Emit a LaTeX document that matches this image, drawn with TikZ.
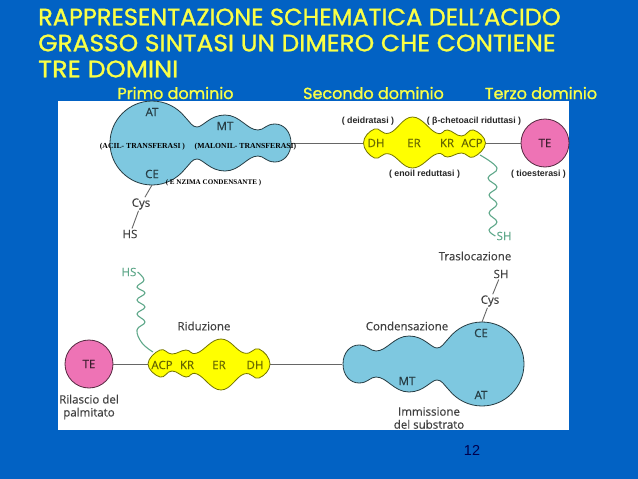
\documentclass[tikz,border=0pt]{standalone}
\usepackage{fontspec}
\setmainfont{Open Sans}[FakeBold=0.4,AutoFakeBold=0.4]
\newfontfamily\titlefont{Poppins}[FakeBold=1.1]
\newfontfamily\labfont{Open Sans}[FakeBold=0.3]
\newfontfamily\serifbold{Liberation Serif}
\newfontfamily\arialfont{Liberation Sans}
\usetikzlibrary{positioning}
\definecolor{slideblue}{RGB}{2,98,196}
\definecolor{headyellow}{RGB}{250,255,70}
\definecolor{kscyan}{RGB}{126,200,224}
\definecolor{ksyellow}{RGB}{255,255,0}
\definecolor{kspink}{RGB}{238,115,181}
\definecolor{kschain}{RGB}{95,168,138}
\tikzset{
  full/.style={draw=black!70!kscyan,fill=kscyan,line width=0.8pt},
  halfyellow/.style={draw=black!55!ksyellow,fill=ksyellow,line width=0.8pt},
  tedomain/.style={circle,draw=black!65!kspink,fill=kspink,line width=0.8pt,minimum size=48pt,inner sep=0pt,
    font=\labfont\fontsize{11.5}{13}\selectfont,text=black!75!kspink},
  bond/.style={draw=black!60,line width=0.9pt},
  chain/.style={draw=kschain,line width=1.1pt},
  title/.style={font=\titlefont\fontsize{23.7}{26}\selectfont,text=headyellow,anchor=west,inner sep=0pt,transform shape},
  head/.style={font=\titlefont\fontsize{16}{18}\selectfont,text=headyellow},
  lab/.style={font=\labfont\fontsize{11.5}{13}\selectfont,text=black!75,inner sep=1pt,align=center},
  dom/.style={font=\labfont\fontsize{11.5}{13}\selectfont,inner sep=1pt},
  enzs/.style={font=\serifbold\bfseries\fontsize{7.7}{9}\selectfont,inner sep=0pt},
  enza/.style={font=\arialfont\bfseries\fontsize{8.8}{10}\selectfont,text=black!85,inner sep=0pt},
  ksblue/.pic={
    \draw[full] (33,-26) .. controls (38,-21) and (40,-16) .. (45,-16)
      .. controls (51,-16) and (58,-28) .. (73,-28) .. controls (88,-28) and (95,-13) .. (106,-13)
      .. controls (112,-13) and (114,-19) .. (123,-19) .. controls (132,-19) and (139,-11) .. (139,0)
      .. controls (139,11) and (132,19) .. (123,19) .. controls (114,19) and (112,13) .. (106,13)
      .. controls (95,13) and (88,28) .. (73,28) .. controls (58,28) and (51,16) .. (45,16)
      .. controls (40,16) and (38,21) .. (33,26) .. controls (25,36) and (13,42) .. (0,42)
      .. controls (-23,42) and (-42,23) .. (-42,0) .. controls (-42,-23) and (-23,-42) .. (0,-42)
      .. controls (13,-42) and (25,-36) .. (33,-26) -- cycle;
  },
  ksyel/.pic={
    \draw[halfyellow] plot[smooth cycle,tension=.75] coordinates {(-61,0) (-50,-14) (-35,-10) (-12,-26)
      (12,-10) (23,-13) (37,-7) (49,-13) (61,0) (49,14) (37,10) (23,14) (12,11) (-12,25)
      (-35,11) (-50,15)};
  }
}
\begin{document}
\begin{tikzpicture}[x=1pt,y=-1pt]
\useasboundingbox (0,0) rectangle (638,479);
\fill[slideblue] (0,0) rectangle (638,479);
% titles
\node[title,xscale=1.015] (line1) at (38,17) {RAPPRESENTAZIONE SCHEMATICA DELL’ACIDO};
\node[title,xscale=1.05] (line2) at (38,43) {GRASSO SINTASI UN DIMERO CHE CONTIENE};
\node[title,xscale=1.08] (line3) at (38,69) {TRE DOMINI};
\node[head] (primo) at (175.5,93) {Primo dominio};
\node[head] (secondo) at (373.5,93) {Secondo dominio};
\node[head] (terzo) at (541,93) {Terzo dominio};
\fill[white] (58,101) rectangle (569,430);
% upper chain
\node[tedomain] (te1) at (545,143) {TE};
\coordinate (blue1e) at (291,143);
\coordinate (yel1w) at (363,143);
\coordinate (yel1e) at (486,143);
\coordinate (ce1) at (152,185);
\coordinate (acp1) at (480,155);
\draw[bond] (blue1e) -- (yel1w);
\draw[bond] (yel1e) -- (te1);
\pic at (152,143) {ksblue};
\pic at (424.5,143) {ksyel};
\node[dom,text=black!70!kscyan] (at1) at (152,112) {AT};
\node[dom,text=black!70!kscyan] (mt1) at (225,126) {MT};
\node[dom,text=black!70!kscyan] (ce1l) at (152,174) {CE};
\node[dom,text=black!60!ksyellow] (dh1) at (376,143) {DH};
\node[dom,text=black!60!ksyellow] (er1) at (414,143) {ER};
\node[dom,text=black!60!ksyellow] (kr1) at (447,143) {KR};
\node[dom,text=black!60!ksyellow] (acp1l) at (472,143) {ACP};
\node[lab] (cys1) at (141,204) {Cys};
\node[lab] (hs1) at (130,234) {HS};
\draw[bond] (ce1) -- (cys1);
\draw[bond] (cys1) -- (hs1);
\node[lab,text=kschain] (sh1) at (504,236) {SH};
\draw[chain] plot[smooth,tension=.7] coordinates {(acp1) (497,168) (488,178) (497,187) (489,195) (497,204)
  (489,213) (497,222) (489,230) (sh1.west)};
\node[lab] (trasl) at (475,256) {Traslocazione};
% lower chain
\node[tedomain] (te2) at (89,364) {TE};
\coordinate (yel2w) at (148,364);
\coordinate (yel2e) at (270,364);
\coordinate (blue2w) at (342,364);
\coordinate (acp2) at (153,352);
\coordinate (ce2) at (482,322);
\draw[bond] (te2) -- (yel2w);
\draw[bond] (yel2e) -- (blue2w);
\pic at (209,364) [rotate=180] {ksyel};
\pic at (482,364) [rotate=180] {ksblue};
\node[dom,text=black!60!ksyellow] (acp2l) at (162,365) {ACP};
\node[dom,text=black!60!ksyellow] (kr2) at (187,365) {KR};
\node[dom,text=black!60!ksyellow] (er2) at (219,365) {ER};
\node[dom,text=black!60!ksyellow] (dh2) at (255,365) {DH};
\node[dom,text=black!70!kscyan] (ce2l) at (481,333) {CE};
\node[dom,text=black!70!kscyan] (at2) at (481,395) {AT};
\node[dom,text=black!70!kscyan] (mt2) at (407,381) {MT};
\node[lab] (cys2) at (490,301) {Cys};
\node[lab] (sh2) at (501,274) {SH};
\draw[bond] (ce2) -- (cys2);
\draw[bond] (cys2) -- (sh2);
\node[lab,text=kschain] (hs2) at (129,272) {HS};
\draw[chain] plot[smooth,tension=.7] coordinates {(hs2.east) (144,280) (137,287) (145,293) (137,300) (145,307)
  (137,314) (145,322) (137,330) (142,343) (acp2)};
\node[lab] (ridu) at (204,326) {Riduzione};
\node[lab] (cond) at (407,326) {Condensazione};
\node[lab] (rilascio) at (89,407) {Rilascio del\\palmitato};
\node[lab] (immis) at (429,418) {Immissione\\del substrato};
% enzymes
\node[enzs] (acil) at (142.5,147) {(ACIL- TRANSFERASI )};
\node[enzs] (malonil) at (245.5,147) {(MALONIL- TRANSFERASI)};
\node[enzs,font=\serifbold\bfseries\fontsize{7.1}{9}\selectfont] (enzima) at (213.5,183) {( E NZIMA CONDENSANTE )};
\node[enza] (deid) at (368,121) {( deidratasi )};
\node[enza] (cheto) at (474,121) {( β-chetoacil riduttasi )};
\node[enza] (enoil) at (424.5,174) {( enoil reduttasi )};
\node[enza] (tioe) at (538.5,174) {( tioesterasi )};
\node[font=\arialfont\fontsize{14.4}{16}\selectfont,text=black!70!blue] (pagina) at (472,450) {12};
\end{tikzpicture}
\end{document}
